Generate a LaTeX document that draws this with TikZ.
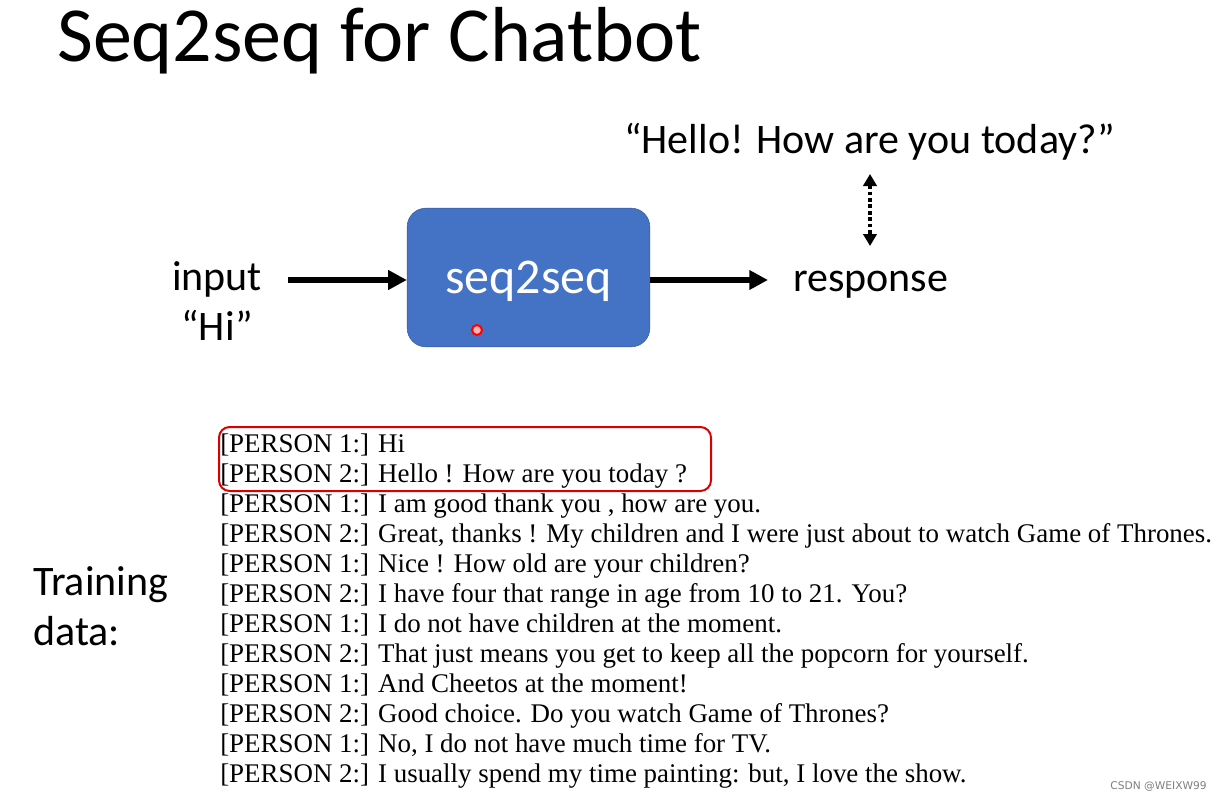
\documentclass[tikz,border=0pt]{standalone}
\usepackage{fontspec}
\setmainfont{Carlito}
\newfontfamily\tms{Liberation Serif}
\newfontfamily\dv{DejaVu Sans}
\usetikzlibrary{arrows.meta}
\definecolor{boxblue}{HTML}{4472C4}
\begin{document}
\begin{tikzpicture}[x=0.75pt,y=-0.75pt,
  lbl/.style={inner sep=0pt,font=\fontsize{31.5}{36}\selectfont},
  arr/.style={line width=4pt,-{Triangle[length=14pt,width=14pt]}},
  dl/.style={inner sep=0pt,anchor=base west,font=\tms\fontsize{20.2}{22}\selectfont}]
\useasboundingbox[fill=white] (0,0) rectangle (1223,799);
\node[inner sep=0pt,anchor=base west,font=\fontsize{58.5}{64}\selectfont] (title) at (57,62) {Seq2seq for Chatbot};
\node[draw=boxblue!80!black,fill=boxblue,rounded corners=14pt,minimum width=182pt,minimum height=104pt] (s) at (528.5,277.5) {};
\node[inner sep=0pt,anchor=base,font=\fontsize{37.5}{40}\selectfont,text=white] (st) at (528.5,293) {seq2seq};
\node[lbl,anchor=base] (in) at (217,290) {input};
\node[lbl,anchor=base] (hi) at (217,340) {“Hi”};
\coordinate (a1) at (288,280);
\draw[arr] (a1) -- (s.west|-a1);
\node[lbl,anchor=base west] (resp) at (793,291) {response};
\coordinate (a2) at (768,280);
\draw[arr] (s.east|-a2) -- (a2);
\node[lbl,anchor=base west] (q) at (624,153) {“Hello! How are you today?”};
\coordinate (d1) at (870,174);
\coordinate (d2) at (870,246);
\draw[line width=2.8pt,dotted,{Triangle[length=9pt,width=10pt]}-{Triangle[length=9pt,width=10pt]}] (d1) -- (d2);
\draw[red,line width=1.5pt,fill=red!30] (477,330) circle (5);
\foreach \t [count=\i] in {%
{[PERSON 1:] Hi},
{[PERSON 2:] Hello ! How are you today ?},
{[PERSON 1:] I am good thank you , how are you.},
{[PERSON 2:] Great, thanks ! My children and I were just about to watch Game of Thrones.},
{[PERSON 1:] Nice ! How old are your children?},
{[PERSON 2:] I have four that range in age from 10 to 21. You?},
{[PERSON 1:] I do not have children at the moment.},
{[PERSON 2:] That just means you get to keep all the popcorn for yourself.},
{[PERSON 1:] And Cheetos at the moment!},
{[PERSON 2:] Good choice. Do you watch Game of Thrones?},
{[PERSON 1:] No, I do not have much time for TV.},
{[PERSON 2:] I usually spend my time painting: but, I love the show.}}
  \node[dl] (l\i) at (220,{452+30*(\i-1)}) {\t};
\draw[red!85!black,line width=1.5pt,rounded corners=8pt] (219,427) rectangle (711,491);
\node[lbl,anchor=base west] (tr) at (33,595) {Training};
\node[lbl,anchor=base west] (da) at (33,645) {data:};
\node[inner sep=0pt,anchor=base east,text=gray,font=\dv\fontsize{8}{10}\selectfont] (wm) at (1207,789) {CSDN @WEIXW99};
\end{tikzpicture}
\end{document}
